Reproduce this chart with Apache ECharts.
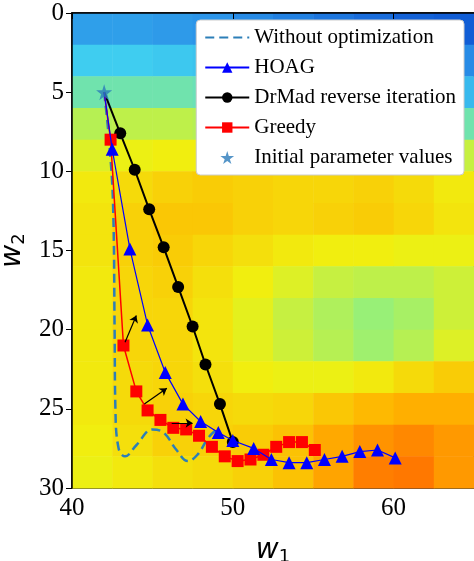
<!DOCTYPE html>
<html><head><meta charset="utf-8">
<script src="https://cdn.jsdelivr.net/npm/echarts@6/dist/echarts.min.js"></script>
<style>html,body{margin:0;padding:0;background:#fff}#c{width:474px;height:561px}</style>
</head><body><div id="c"></div>
<script>
// Background loss surface: columns x = 40..65 step 2.5, rows y = 0..30 step 2
const bgX0 = [40,42.5,45,47.5,50,52.5,55,57.5,60,62.5];
const bgY0 = [0,2,4,6,8,10,12,14,16,18,20,22,24,26,28];
const bgVals = [
 [0.28,0.28,0.27,0.26,0.24,0.22,0.20,0.18,0.16,0.15],
 [0.37,0.37,0.36,0.35,0.34,0.32,0.30,0.28,0.26,0.24],
 [0.45,0.45,0.45,0.44,0.43,0.41,0.39,0.37,0.35,0.33],
 [0.55,0.56,0.56,0.55,0.54,0.53,0.51,0.49,0.47,0.45],
 [0.60,0.62,0.63,0.63,0.62,0.61,0.60,0.59,0.58,0.57],
 [0.64,0.67,0.69,0.70,0.69,0.68,0.68,0.69,0.67,0.64],
 [0.65,0.69,0.71,0.71,0.69,0.68,0.69,0.70,0.68,0.65],
 [0.65,0.69,0.70,0.68,0.66,0.64,0.63,0.63,0.62,0.62],
 [0.64,0.68,0.69,0.66,0.63,0.60,0.57,0.56,0.56,0.58],
 [0.64,0.68,0.68,0.65,0.61,0.57,0.54,0.51,0.53,0.58],
 [0.64,0.68,0.68,0.65,0.61,0.58,0.55,0.52,0.55,0.60],
 [0.64,0.67,0.68,0.66,0.63,0.62,0.62,0.64,0.67,0.70],
 [0.64,0.67,0.69,0.68,0.67,0.68,0.71,0.74,0.76,0.76],
 [0.63,0.66,0.69,0.69,0.70,0.72,0.77,0.81,0.83,0.80],
 [0.62,0.64,0.66,0.67,0.69,0.72,0.78,0.85,0.86,0.80]
];
const initial = [[42,5]];
const withoutOpt = [[42,5],[42.3,8],[42.55,12],[42.65,20],[42.7,25],[42.9,27.5],[43.3,28],[44,27.3],[45,26.3],[45.7,26.5],[46.5,27.6],[47.2,28.3],[47.8,27.9],[48.5,26.8],[49,26.3]];
const hoag = [[42,5],[42.5,8.6],[43.6,14.9],[44.7,19.7],[45.8,22.7],[46.9,24.7],[48,25.8],[49.1,26.5],[50,27],[51.3,27.5],[52.4,28.2],[53.5,28.4],[54.6,28.4],[55.7,28.2],[56.8,28],[57.9,27.7],[59,27.6],[60.1,28.1]];
const drmad = [[42,5],[43,7.6],[43.9,9.9],[44.8,12.4],[45.7,14.8],[46.6,17.3],[47.5,19.8],[48.3,22.2],[49.2,24.7],[50,27.1]];
const greedy = [[42,5],[42.4,8.0],[43.2,21.0],[44.0,23.9],[44.7,25.1],[45.5,25.7],[46.3,26.2],[47.1,26.3],[47.9,26.7],[48.7,27.4],[49.5,28.0],[50.3,28.3],[51.1,28.2],[51.9,27.9],[52.7,27.4],[53.5,27.1],[54.3,27.1],[55.1,27.6]];
const arrows = [[[43.3,20.8],[44.0,19.1]],[[44.5,24.7],[45.9,23.7]],[[46.2,25.9],[47.5,25.9]]];

const bgData = [];
bgY0.forEach((y,i)=>bgX0.forEach((x,j)=>bgData.push([x,y,bgVals[i][j]])));
const star = 'path://M50,0 L61,35 L98,35 L68,57 L79,91 L50,70 L21,91 L32,57 L2,35 L39,35 Z';
const serif = 'Liberation Serif';

const chart = echarts.init(document.getElementById('c'));
chart.setOption({
  animation:false,
  grid:{left:72,right:0,top:13,bottom:73,outerBoundsMode:'none',containLabel:false,show:true,borderColor:'#000',borderWidth:1.5,backgroundColor:'transparent'},
  xAxis:{type:'value',min:40,max:65,interval:10,
    axisLine:{show:true,lineStyle:{color:'#000',width:1.5}},axisTick:{show:true,length:6,lineStyle:{color:'#000'}},
    splitLine:{show:false},axisLabel:{color:'#000',fontSize:25,fontFamily:serif,showMaxLabel:false,margin:8},
    name:'{a|w}{b|1}',nameLocation:'middle',nameGap:48,
    nameTextStyle:{rich:{a:{fontSize:28,fontStyle:'italic',fontFamily:'DejaVu Sans',color:'#000'},b:{fontSize:18,fontFamily:'DejaVu Sans',color:'#000',padding:[12,0,0,0]}}}},
  yAxis:{type:'value',min:0,max:30,interval:5,inverse:true,
    axisLine:{show:true,lineStyle:{color:'#000',width:1.5}},axisTick:{show:true,length:6,lineStyle:{color:'#000'}},
    splitLine:{show:false},axisLabel:{color:'#000',fontSize:25,fontFamily:serif,margin:8},
    name:'{a|w}{b|2}',nameLocation:'middle',nameGap:44,nameRotate:90,
    nameTextStyle:{rich:{a:{fontSize:28,fontStyle:'italic',fontFamily:'DejaVu Sans',color:'#000'},b:{fontSize:18,fontFamily:'DejaVu Sans',color:'#000',padding:[12,0,0,0]}}}},
  visualMap:{show:false,seriesIndex:0,dimension:2,min:0,max:1,
    inRange:{color:['#0000a0','#0a50d0','#2a90e8','#40d0f0','#90f080','#f0f010','#ffb400','#ff7000','#e03000']}},
  legend:{orient:'vertical',right:10,top:20,itemGap:9,itemWidth:44,itemHeight:13,
    backgroundColor:'#fff',borderColor:'#ccc',borderWidth:1,borderRadius:4,padding:[7,8,7,8],
    textStyle:{fontFamily:serif,fontSize:21,color:'#000'},
    data:[{name:'Without optimization',itemStyle:{opacity:0}},'HOAG','DrMad reverse iteration','Greedy',{name:'Initial parameter values',itemHeight:18}]},
  series:[
    {type:'custom',silent:true,data:bgData,z:0,
      renderItem:function(params,api){
        const x=api.value(0),y=api.value(1);
        const p1=api.coord([x,y]),p2=api.coord([x+2.5,y+2]);
        return {type:'rect',shape:{x:p1[0],y:p1[1],width:p2[0]-p1[0]+0.5,height:p2[1]-p1[1]+0.5},style:{fill:api.visual('color')}};
      }},
    {name:'Without optimization',type:'line',data:withoutOpt,smooth:0.4,symbol:'none',z:3,
      lineStyle:{color:'#2c7fb8',width:2.5,type:[9,5]},itemStyle:{color:'#2c7fb8'}},
    {name:'HOAG',type:'line',data:hoag.slice(1),symbol:'triangle',symbolSize:13,z:5,
      lineStyle:{color:'#0000ff',width:1.2},itemStyle:{color:'#0000ff'}},
    {name:'HOAG_link',type:'line',data:hoag.slice(0,2),symbol:'none',z:5,lineStyle:{color:'#0000ff',width:1.2}},
    {name:'DrMad reverse iteration',type:'line',data:drmad.slice(1),symbol:'circle',symbolSize:12,z:4,
      lineStyle:{color:'#000',width:2},itemStyle:{color:'#000'}},
    {name:'DrMad_link',type:'line',data:drmad.slice(0,2),symbol:'none',z:4,lineStyle:{color:'#000',width:2}},
    {name:'Greedy',type:'line',data:greedy.slice(1),symbol:'rect',symbolSize:12,z:4,
      lineStyle:{color:'#ff0000',width:1.5},itemStyle:{color:'#ff0000'}},
    {name:'Greedy_link',type:'line',data:greedy.slice(0,2),symbol:'none',z:4,lineStyle:{color:'#ff0000',width:1.5}},
    {name:'Initial parameter values',type:'scatter',data:initial,symbol:star,symbolSize:16,z:6,itemStyle:{color:'#2b7bba'}},
    {type:'lines',coordinateSystem:'cartesian2d',z:6,symbol:['none','arrow'],symbolSize:7,
      lineStyle:{color:'#000',width:1.2,opacity:1},data:arrows.map(a=>({coords:a}))}
  ]
});
</script></body></html>
